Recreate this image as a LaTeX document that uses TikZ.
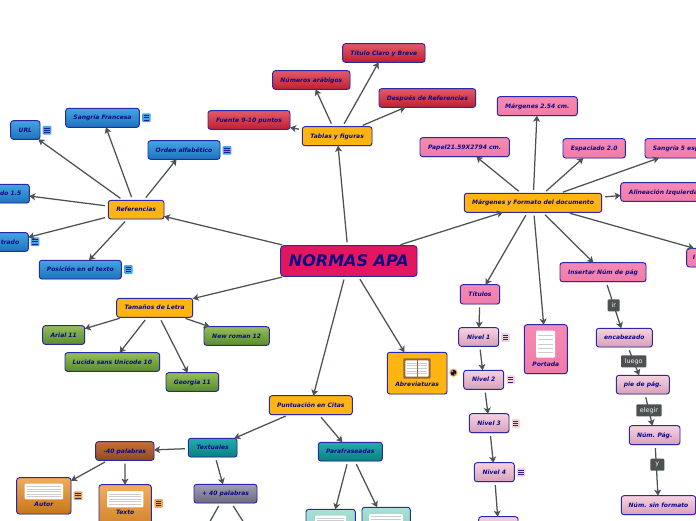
\documentclass[tikz,border=0pt]{standalone}
\usepackage{fontspec}
\setmainfont{DejaVu Sans}
\usetikzlibrary{arrows.meta,shadows}
\definecolor{ink}{HTML}{0A0A86}
\definecolor{edgeblue}{HTML}{2A28A8}
\definecolor{wire}{HTML}{4C5252}
\tikzset{
  base/.style={rectangle,rounded corners=2.6pt,draw=edgeblue,line width=.95pt,inner sep=0pt,outer sep=0pt,
    text=ink,font=\fontsize{6}{7}\selectfont\bfseries\itshape,
    drop shadow={shadow xshift=.4pt,shadow yshift=-.6pt,fill=gray,opacity=.3}},
  mainnode/.style={base,fill=yellowmain},
  rootnode/.style={base,fill=rootpink,font=\fontsize{16}{18}\selectfont\bfseries\itshape,rounded corners=3pt},
  pinknode/.style={base,top color=pinkA,bottom color=pinkB},
  rednode/.style={base,top color=redA,bottom color=redB},
  bluenode/.style={base,top color=blueA,bottom color=blueB},
  greennode/.style={base,top color=greenA,bottom color=greenB},
  palenode/.style={base,top color=paleA,bottom color=paleB},
  tealnode/.style={base,top color=tealA,bottom color=tealB},
  brownnode/.style={base,top color=brownA,bottom color=brownB},
  greynode/.style={base,top color=greyA,bottom color=greyB},
  orangenode/.style={base,top color=orangeA,bottom color=orangeB},
  mintnode/.style={base,top color=mintA,bottom color=mintB},
  conn/.style={draw=wire,line width=1.25pt,shorten <=3.4pt,-{Stealth[length=6pt,width=7pt,inset=1.5pt]}},
  lab/.style={rectangle,rounded corners=1pt,fill=wire,text=white!90!gray,inner sep=0pt,outer sep=0pt,
    font=\fontsize{6.4}{7}\selectfont,minimum height=12pt},
  iconbox/.style={rectangle,rounded corners=1pt,inner sep=0pt,outer sep=0pt,minimum width=8.6pt,minimum height=8.8pt},
}
\definecolor{yellowmain}{HTML}{FFB412}
\definecolor{rootpink}{HTML}{E3175F}
\definecolor{pinkA}{HTML}{F58AB4}
\definecolor{pinkB}{HTML}{F07CA8}
\definecolor{redA}{HTML}{E45A68}
\definecolor{redB}{HTML}{BE2030}
\definecolor{blueA}{HTML}{46A4E2}
\definecolor{blueB}{HTML}{1C74BC}
\definecolor{greenA}{HTML}{94BE58}
\definecolor{greenB}{HTML}{5A8C2E}
\definecolor{paleA}{HTML}{F6D2E0}
\definecolor{paleB}{HTML}{D8A0B8}
\definecolor{tealA}{HTML}{22ACAC}
\definecolor{tealB}{HTML}{0A8080}
\definecolor{brownA}{HTML}{C87038}
\definecolor{brownB}{HTML}{8E4A20}
\definecolor{greyA}{HTML}{A09EB2}
\definecolor{greyB}{HTML}{6C6A7E}
\definecolor{orangeA}{HTML}{F2AC5E}
\definecolor{orangeB}{HTML}{C67618}
\definecolor{mintA}{HTML}{A8E0D4}
\definecolor{mintB}{HTML}{86CCC0}
% [baseline offset]{style}{name}{x1}{y1}{x2}{y2}{text}
\newcommand{\nbox}[8][-2.1]{%
  \node[#2,minimum width={(#6)*1pt-(#4)*1pt},minimum height={(#7)*1pt-(#5)*1pt}] (#3)
    at ({((#4)+(#6))/2},{((#5)+(#7))/2}) {\smash{\raisebox{#1pt}{#8}}};}
% {name}{x centre}{y centre}{fill}{bars}
\newcommand{\nicon}[5]{%
  \node[iconbox,fill=#4] (#1) at (#2,#3) {};
  \draw[#5,line width=.75pt] (#2-2.6,#3-2.1) -- (#2+2.6,#3-2.1) (#2-2.6,#3) -- (#2+2.6,#3) (#2-2.6,#3+2.1) -- (#2+2.6,#3+2.1);}
% {x1}{y1}{x2}{y2} thumbnail with soft grey lines
\newcommand{\thumb}[4]{%
  \fill[white,rounded corners=1pt] (#1,#2) rectangle (#3,#4);
  \foreach \t in {.18,.34,.5,.66,.82}
    \draw[gray!40,line width=.8pt] ({#1+2},{#2+\t*(#4-#2)}) -- ({#3-2},{#2+\t*(#4-#2)});}
\begin{document}
\begin{tikzpicture}[x=1pt,y=-1pt]
\useasboundingbox (0,0) rectangle (696,520);
\clip (0,0) rectangle (696,520);
\fill[white] (0,0) rectangle (696,520);
% root
\nbox[-5.9]{rootnode}{root}{280.7}{245.7}{417}{276.3}{NORMAS APA}
% main branches
\nbox{mainnode}{refs}{108.3}{200.3}{164}{219}{Referencias}
\nbox{mainnode}{tablas}{302.3}{126.7}{372}{145.7}{Tablas y figuras}
\nbox{mainnode}{marg}{464.3}{193.3}{601.7}{212.3}{Márgenes y Formato del documento}
\nbox{mainnode}{tam}{116.7}{298.3}{192.7}{317.3}{Tamaños de Letra}
\nbox{mainnode}{punt}{269.3}{395.7}{352.3}{414.7}{Puntuación en Citas}
\nbox[-13.3]{mainnode}{abrev}{387.3}{352.3}{447}{394}{Abreviaturas}
% references
\nbox{bluenode}{url}{10.7}{120.7}{40}{139.3}{URL}
\nbox{bluenode}{sang}{65.7}{108.3}{139.3}{127.3}{Sangría Francesa}
\nbox{bluenode}{orden}{148}{140.7}{220}{159.3}{Orden alfabético}
\nbox{bluenode}{inter}{-8}{184.3}{29.3}{203}{do 1.5}
\nbox{bluenode}{centr}{-8.3}{232.7}{28.3}{251.3}{trado}
\nbox{bluenode}{posi}{39.3}{260.3}{121.3}{279}{Posición en el texto}
\nicon{iurl}{47}{130.2}{blueA}{ink!85!blueA}
\nicon{isang}{146.4}{117.8}{blueA}{ink!85!blueA}
\nicon{iorden}{227}{150.3}{blueA}{ink!85!blueA}
\nicon{icentr}{35}{241.8}{blueA}{ink!85!blueA}
\nicon{iposi}{128.4}{269.5}{blueA}{ink!85!blueA}
% tables
\nbox{rednode}{fuente}{208}{110.7}{290}{129.3}{Fuente 9-10 puntos}
\nbox{rednode}{nums}{272.7}{70.7}{350}{89.3}{Números arábigos}
\nbox{rednode}{titc}{342.7}{43.7}{425}{62.3}{Título Claro y Breve}
\nbox{rednode}{desp}{379}{88.7}{475.7}{107.3}{Después de Referencias}
% format
\nbox{pinknode}{m254}{497.3}{96.7}{577.3}{115.7}{Márgenes 2.54 cm.}
\nbox{pinknode}{papel}{420}{137.7}{509.3}{156.7}{Papel21.59X2794 cm.}
\nbox{pinknode}{espa}{563}{138.7}{625.3}{158}{Espaciado 2.0}
\nbox{pinknode}{sang5}{645}{138.7}{707}{158}{Sangría 5 esp}
\nbox{pinknode}{alin}{620.7}{182.7}{706}{201.3}{Alineación Izquierda}
\nbox{pinknode}{farr}{686.7}{248.3}{701.3}{267}{I}
\nbox{pinknode}{ins}{560}{262.7}{646}{281.7}{Insertar Núm de pág}
\nbox{pinknode}{tits}{460.3}{284.7}{499.7}{304}{Títulos}
\nbox[-17.3]{pinknode}{port}{524.3}{324.7}{567.3}{373.7}{Portada}
% levels
\nbox{palenode}{n1}{458.7}{327.7}{498.7}{346.3}{Nivel 1}
\nbox{palenode}{n2}{463.7}{370.3}{503.7}{389.3}{Nivel 2}
\nbox{palenode}{n3}{469.3}{413.7}{509}{432.7}{Nivel 3}
\nbox{palenode}{n4}{474.3}{462.7}{514.3}{481.7}{Nivel 4}
\nbox{palenode}{n5}{478.7}{516.7}{518}{535}{}
\nicon{in1}{505.5}{337.5}{paleA}{ink!85!paleB}
\nicon{in2}{510.8}{379.8}{paleA}{ink!85!paleB}
\nicon{in3}{515.8}{423.5}{paleA}{ink!85!paleB}
\nicon{in4}{521}{472.5}{paleA}{ink!85!paleB}
% page number chain
\nbox{palenode}{enca}{596.3}{328.3}{652.3}{347}{encabezado}
\nbox{palenode}{pie}{616.3}{375.3}{669.3}{394}{pie de pág.}
\nbox{palenode}{npag}{629.3}{425.7}{680}{444.7}{Núm. Pág.}
\nbox{palenode}{nsin}{621.3}{495.7}{695.7}{514.7}{Núm. sin formato}
% sizes
\nbox{greennode}{arial}{42.7}{325.7}{84.7}{344.3}{Arial 11}
\nbox{greennode}{lucida}{65}{352.7}{159.7}{371.3}{Lucida sans Unicode 10}
\nbox{greennode}{georgia}{166}{372.7}{218.7}{391.3}{Georgia 11}
\nbox{greennode}{newr}{204}{326.7}{269.3}{345.3}{New roman 12}
% citations
\nbox{tealnode}{textu}{188.3}{438.3}{237}{457}{Textuales}
\nbox{tealnode}{parf}{318.3}{442.3}{382.3}{461}{Parafraseadas}
\nbox{brownnode}{men40}{95.7}{441.7}{154}{460.3}{-40 palabras}
\nbox{greynode}{mas40}{194}{484.3}{257}{503}{+ 40 palabras}
\nbox[-10.7]{orangenode}{autor}{16.7}{477.7}{71}{514}{Autor}
\nbox[-2.1]{orangenode}{texto}{99}{484.7}{151.3}{540}{Texto}
\nbox{mintnode}{mint1}{306}{509.3}{355.3}{545}{}
\nbox{mintnode}{mint2}{362}{507.3}{410.3}{545}{}
\nicon{iautor}{78}{495.8}{orangeA!85!brown}{ink!85!orangeA}
\nicon{itexto}{158.6}{503.4}{orangeA!85!brown}{ink!85!orangeA}
% free ends
\coordinate (fa) at (203,534);
\coordinate (fb) at (251,534);
% connectors
\draw[conn] (root) -- (refs);
\draw[conn] (root) -- (tam);
\draw[conn] (root) -- (tablas);
\draw[conn] (root) -- (marg);
\draw[conn] (root) -- (punt);
\draw[conn] (root) -- (abrev);
\draw[conn] (refs) -- (url);
\draw[conn] (refs) -- (sang);
\draw[conn] (refs) -- (orden);
\draw[conn] (refs) -- (inter);
\draw[conn] (refs) -- (centr);
\draw[conn] (refs) -- (posi);
\draw[conn] (tablas) -- (fuente);
\draw[conn] (tablas) -- (nums);
\draw[conn] (tablas) -- (titc);
\draw[conn] (tablas) -- (desp);
\draw[conn] (marg) -- (papel);
\draw[conn] (marg) -- (m254);
\draw[conn] (marg) -- (espa);
\draw[conn] (marg) -- ([xshift=14pt]sang5.south west);
\draw[conn] (marg) -- (alin);
\draw[conn] (marg) -- (farr.north);
\draw[conn] (marg) -- (ins);
\draw[conn] (marg) -- (tits);
\draw[conn] (marg) -- (port);
\draw[conn] (tits) -- (n1);
\draw[conn] (n1) -- (n2);
\draw[conn] (n2) -- (n3);
\draw[conn] (n3) -- (n4);
\draw[conn] (n4) -- (n5);
\draw[conn] (ins) -- (enca);
\draw[conn] (enca) -- (pie);
\draw[conn] (pie) -- (npag);
\draw[conn] (npag) -- (nsin);
\draw[conn] (tam) -- (arial);
\draw[conn] (tam) -- (lucida);
\draw[conn] (tam) -- (georgia);
\draw[conn] (tam) -- (newr);
\draw[conn] (punt) -- (textu);
\draw[conn] (punt) -- (parf);
\draw[conn] (textu) -- (men40);
\draw[conn] (textu) -- (mas40);
\draw[conn] (men40) -- (autor);
\draw[conn] (men40) -- (texto);
\draw[conn] (mas40) -- (fa);
\draw[conn] (mas40) -- (fb);
\draw[conn] (parf) -- (mint1);
\draw[conn] (parf) -- (mint2);
% connector labels
\node[lab,minimum width=12pt] (lir) at (613.7,305.3) {ir};
\node[lab,minimum width=25.4pt] (lluego) at (633.7,361.3) {luego};
\node[lab,minimum width=25.4pt] (lelegir) at (649,410.3) {elegir};
\node[lab,minimum width=14pt] (ly) at (657.3,464.7) {y};
% pictures
\fill[brown!80!black,rounded corners=1pt] (403.3,358.3) rectangle (430.7,378.7);
\thumb{405.3}{360.3}{428.7}{376.7}
\draw[brown!80!black,line width=.5pt] (417,360.3) -- (417,376.7);
\thumb{536}{330.7}{555}{357.7}
\thumb{24.7}{483.7}{63}{499.3}
\thumb{107}{491}{143.3}{507.3}
\thumb{315}{515.7}{346}{530}
\thumb{369}{514}{403}{530}
% globe mark
\node[circle,fill=yellowmain,minimum size=8.2pt,inner sep=0pt,outer sep=0pt] (iabrev) at (453.5,372.7) {};
\fill[ink!70!black] (453.5,372.7) circle (2.9pt);
\fill[yellowmain] (452.2,371.3) circle (1pt) (455,374.2) circle (.9pt);
\end{tikzpicture}
\end{document}
